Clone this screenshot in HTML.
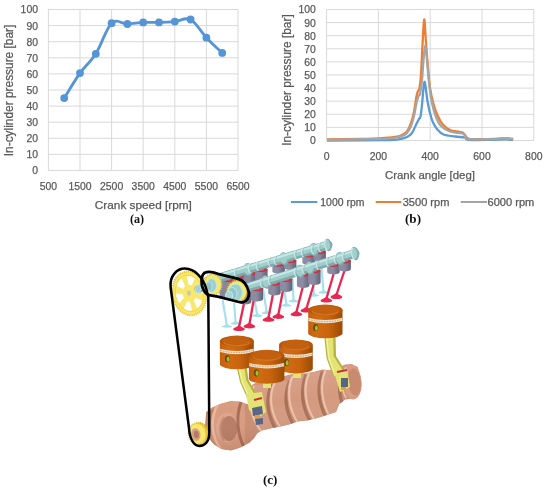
<!DOCTYPE html><html><head><meta charset="utf-8"><style>html,body{margin:0;padding:0;background:#fff;overflow:hidden;width:550px;height:490px;}svg{display:block}</style></head><body>
<svg width="550" height="490" viewBox="0 0 550 490">
<rect width="550" height="490" fill="#fff"/>
<path d="M48.4,170.50H238.0M48.4,154.40H238.0M48.4,138.30H238.0M48.4,122.20H238.0M48.4,106.10H238.0M48.4,90.00H238.0M48.4,73.90H238.0M48.4,57.80H238.0M48.4,41.70H238.0M48.4,25.60H238.0M48.4,9.50H238.0M48.40,9.0V171.0M80.00,9.0V171.0M111.60,9.0V171.0M143.20,9.0V171.0M174.80,9.0V171.0M206.40,9.0V171.0M238.00,9.0V171.0" stroke="#d9d9d9" stroke-width="1" fill="none"/>
<path d="M64.20,98.05 C66.83,93.89 74.73,80.47 80.00,73.09 C85.27,65.72 90.53,62.09 95.80,53.78 C101.07,45.46 106.33,28.15 111.60,23.19 C116.87,18.22 122.13,24.12 127.40,23.99 C132.67,23.86 137.93,22.65 143.20,22.38 C148.47,22.11 153.73,22.51 159.00,22.38 C164.27,22.25 169.53,22.06 174.80,21.57 C180.07,21.09 185.33,16.80 190.60,19.48 C195.87,22.17 201.13,32.09 206.40,37.68 C211.67,43.26 219.57,50.42 222.20,52.97" stroke="#5595d6" stroke-width="2.8" fill="none" stroke-linejoin="round"/>
<circle cx="64.20" cy="98.05" r="3.9" fill="#5595d6"/>
<circle cx="80.00" cy="73.09" r="3.9" fill="#5595d6"/>
<circle cx="95.80" cy="53.78" r="3.9" fill="#5595d6"/>
<circle cx="111.60" cy="23.19" r="3.9" fill="#5595d6"/>
<circle cx="127.40" cy="23.99" r="3.9" fill="#5595d6"/>
<circle cx="143.20" cy="22.38" r="3.9" fill="#5595d6"/>
<circle cx="159.00" cy="22.38" r="3.9" fill="#5595d6"/>
<circle cx="174.80" cy="21.57" r="3.9" fill="#5595d6"/>
<circle cx="190.60" cy="19.48" r="3.9" fill="#5595d6"/>
<circle cx="206.40" cy="37.68" r="3.9" fill="#5595d6"/>
<circle cx="222.20" cy="52.97" r="3.9" fill="#5595d6"/>
<text x="38.00" y="174.40" font-size="11.00" fill="#595959" stroke="#595959" stroke-width="0.25" text-anchor="end" textLength="5.8" lengthAdjust="spacingAndGlyphs" style="font-family:'Liberation Sans',Arial,sans-serif" >0</text>
<text x="38.00" y="158.30" font-size="11.00" fill="#595959" stroke="#595959" stroke-width="0.25" text-anchor="end" textLength="11.6" lengthAdjust="spacingAndGlyphs" style="font-family:'Liberation Sans',Arial,sans-serif" >10</text>
<text x="38.00" y="142.20" font-size="11.00" fill="#595959" stroke="#595959" stroke-width="0.25" text-anchor="end" textLength="11.6" lengthAdjust="spacingAndGlyphs" style="font-family:'Liberation Sans',Arial,sans-serif" >20</text>
<text x="38.00" y="126.10" font-size="11.00" fill="#595959" stroke="#595959" stroke-width="0.25" text-anchor="end" textLength="11.6" lengthAdjust="spacingAndGlyphs" style="font-family:'Liberation Sans',Arial,sans-serif" >30</text>
<text x="38.00" y="110.00" font-size="11.00" fill="#595959" stroke="#595959" stroke-width="0.25" text-anchor="end" textLength="11.6" lengthAdjust="spacingAndGlyphs" style="font-family:'Liberation Sans',Arial,sans-serif" >40</text>
<text x="38.00" y="93.90" font-size="11.00" fill="#595959" stroke="#595959" stroke-width="0.25" text-anchor="end" textLength="11.6" lengthAdjust="spacingAndGlyphs" style="font-family:'Liberation Sans',Arial,sans-serif" >50</text>
<text x="38.00" y="77.80" font-size="11.00" fill="#595959" stroke="#595959" stroke-width="0.25" text-anchor="end" textLength="11.6" lengthAdjust="spacingAndGlyphs" style="font-family:'Liberation Sans',Arial,sans-serif" >60</text>
<text x="38.00" y="61.70" font-size="11.00" fill="#595959" stroke="#595959" stroke-width="0.25" text-anchor="end" textLength="11.6" lengthAdjust="spacingAndGlyphs" style="font-family:'Liberation Sans',Arial,sans-serif" >70</text>
<text x="38.00" y="45.60" font-size="11.00" fill="#595959" stroke="#595959" stroke-width="0.25" text-anchor="end" textLength="11.6" lengthAdjust="spacingAndGlyphs" style="font-family:'Liberation Sans',Arial,sans-serif" >80</text>
<text x="38.00" y="29.50" font-size="11.00" fill="#595959" stroke="#595959" stroke-width="0.25" text-anchor="end" textLength="11.6" lengthAdjust="spacingAndGlyphs" style="font-family:'Liberation Sans',Arial,sans-serif" >90</text>
<text x="38.00" y="13.40" font-size="11.00" fill="#595959" stroke="#595959" stroke-width="0.25" text-anchor="end" textLength="17.4" lengthAdjust="spacingAndGlyphs" style="font-family:'Liberation Sans',Arial,sans-serif" >100</text>
<text x="48.40" y="190.30" font-size="11.00" fill="#595959" stroke="#595959" stroke-width="0.25" text-anchor="middle" textLength="17.4" lengthAdjust="spacingAndGlyphs" style="font-family:'Liberation Sans',Arial,sans-serif" >500</text>
<text x="80.00" y="190.30" font-size="11.00" fill="#595959" stroke="#595959" stroke-width="0.25" text-anchor="middle" textLength="23.2" lengthAdjust="spacingAndGlyphs" style="font-family:'Liberation Sans',Arial,sans-serif" >1500</text>
<text x="111.60" y="190.30" font-size="11.00" fill="#595959" stroke="#595959" stroke-width="0.25" text-anchor="middle" textLength="23.2" lengthAdjust="spacingAndGlyphs" style="font-family:'Liberation Sans',Arial,sans-serif" >2500</text>
<text x="143.20" y="190.30" font-size="11.00" fill="#595959" stroke="#595959" stroke-width="0.25" text-anchor="middle" textLength="23.2" lengthAdjust="spacingAndGlyphs" style="font-family:'Liberation Sans',Arial,sans-serif" >3500</text>
<text x="174.80" y="190.30" font-size="11.00" fill="#595959" stroke="#595959" stroke-width="0.25" text-anchor="middle" textLength="23.2" lengthAdjust="spacingAndGlyphs" style="font-family:'Liberation Sans',Arial,sans-serif" >4500</text>
<text x="206.40" y="190.30" font-size="11.00" fill="#595959" stroke="#595959" stroke-width="0.25" text-anchor="middle" textLength="23.2" lengthAdjust="spacingAndGlyphs" style="font-family:'Liberation Sans',Arial,sans-serif" >5500</text>
<text x="238.00" y="190.30" font-size="11.00" fill="#595959" stroke="#595959" stroke-width="0.25" text-anchor="middle" textLength="23.2" lengthAdjust="spacingAndGlyphs" style="font-family:'Liberation Sans',Arial,sans-serif" >6500</text>
<text x="94.80" y="209.20" font-size="11.40" fill="#595959" stroke="#595959" stroke-width="0.25" text-anchor="start" textLength="97.1" lengthAdjust="spacingAndGlyphs" style="font-family:'Liberation Sans',Arial,sans-serif" >Crank speed [rpm]</text>
<g transform="translate(12.9,156.2) rotate(-90)">
<text x="0.00" y="0.00" font-size="12.20" fill="#595959" stroke="#595959" stroke-width="0.25" text-anchor="start" textLength="131.5" lengthAdjust="spacingAndGlyphs" style="font-family:'Liberation Sans',Arial,sans-serif" >In-cylinder pressure [bar]</text>
</g>
<text x="137.00" y="222.80" font-size="12.00" fill="#111" text-anchor="middle" textLength="14.2" lengthAdjust="spacingAndGlyphs" font-weight="bold" style="font-family:'Liberation Serif','Times New Roman',serif" >(a)</text>
<path d="M326.6,140.50H533.8M326.6,127.40H533.8M326.6,114.30H533.8M326.6,101.20H533.8M326.6,88.10H533.8M326.6,75.00H533.8M326.6,61.90H533.8M326.6,48.80H533.8M326.6,35.70H533.8M326.6,22.60H533.8M326.6,9.50H533.8M326.60,9.0V141.0M378.40,9.0V141.0M430.20,9.0V141.0M482.00,9.0V141.0M533.80,9.0V141.0" stroke="#d9d9d9" stroke-width="1" fill="none"/>
<path d="M327.00,140.50 C337.50,140.42 377.83,140.25 390.00,140.00 C402.17,139.75 397.17,139.50 400.00,139.00 C402.83,138.50 405.00,138.00 407.00,137.00 C409.00,136.00 410.43,135.17 412.00,133.00 C413.57,130.83 415.23,126.33 416.40,124.00 C417.57,121.67 418.32,120.27 419.00,119.00 C419.68,117.73 420.00,118.73 420.50,116.40 C421.00,114.07 421.50,109.73 422.00,105.00 C422.50,100.27 423.08,91.87 423.50,88.00 C423.92,84.13 424.17,82.13 424.50,81.80 C424.83,81.47 425.03,82.97 425.50,86.00 C425.97,89.03 426.55,95.50 427.30,100.00 C428.05,104.50 429.10,109.37 430.00,113.00 C430.90,116.63 431.53,119.13 432.70,121.80 C433.87,124.47 435.18,126.88 437.00,129.00 C438.82,131.12 440.60,133.25 443.60,134.50 C446.60,135.75 451.43,135.98 455.00,136.50 C458.57,137.02 462.75,137.05 465.00,137.60 C467.25,138.15 464.33,139.42 468.50,139.80 C472.67,140.18 483.92,139.97 490.00,139.90 C496.08,139.83 501.17,139.38 505.00,139.40 C508.83,139.42 511.67,139.90 513.00,140.00" stroke="#5b9bd5" stroke-width="2.3" fill="none" stroke-linejoin="round"/>
<path d="M327.00,139.30 C332.50,139.25 351.17,139.15 360.00,139.00 C368.83,138.85 374.17,138.73 380.00,138.40 C385.83,138.07 391.33,137.57 395.00,137.00 C398.67,136.43 400.00,135.92 402.00,135.00 C404.00,134.08 405.50,133.50 407.00,131.50 C408.50,129.50 409.83,126.25 411.00,123.00 C412.17,119.75 413.10,116.33 414.00,112.00 C414.90,107.67 415.73,100.50 416.40,97.00 C417.07,93.50 417.48,92.50 418.00,91.00 C418.52,89.50 419.00,90.67 419.50,88.00 C420.00,85.33 420.50,82.17 421.00,75.00 C421.50,67.83 421.97,54.25 422.50,45.00 C423.03,35.75 423.65,20.33 424.20,19.50 C424.75,18.67 425.25,32.92 425.80,40.00 C426.35,47.08 426.80,54.00 427.50,62.00 C428.20,70.00 428.98,80.92 430.00,88.00 C431.02,95.08 432.27,99.75 433.60,104.50 C434.93,109.25 436.47,113.17 438.00,116.50 C439.53,119.83 440.80,122.25 442.80,124.50 C444.80,126.75 447.63,128.83 450.00,130.00 C452.37,131.17 454.92,131.08 457.00,131.50 C459.08,131.92 461.17,131.92 462.50,132.50 C463.83,133.08 464.08,134.00 465.00,135.00 C465.92,136.00 466.33,137.80 468.00,138.50 C469.67,139.20 470.50,139.15 475.00,139.20 C479.50,139.25 489.50,138.95 495.00,138.80 C500.50,138.65 504.95,138.27 508.00,138.30 C511.05,138.33 512.42,138.88 513.30,139.00" stroke="#ed7d31" stroke-width="2.3" fill="none" stroke-linejoin="round"/>
<path d="M327.00,139.80 C335.83,139.67 368.67,139.33 380.00,139.00 C391.33,138.67 391.33,138.30 395.00,137.80 C398.67,137.30 400.00,136.80 402.00,136.00 C404.00,135.20 405.50,134.67 407.00,133.00 C408.50,131.33 409.83,128.83 411.00,126.00 C412.17,123.17 413.08,119.83 414.00,116.00 C414.92,112.17 415.75,106.33 416.50,103.00 C417.25,99.67 417.92,97.50 418.50,96.00 C419.08,94.50 419.42,96.67 420.00,94.00 C420.58,91.33 421.42,85.67 422.00,80.00 C422.58,74.33 422.95,65.87 423.50,60.00 C424.05,54.13 424.72,44.80 425.30,44.80 C425.88,44.80 426.38,53.80 427.00,60.00 C427.62,66.20 428.17,74.83 429.00,82.00 C429.83,89.17 430.83,97.17 432.00,103.00 C433.17,108.83 434.50,113.17 436.00,117.00 C437.50,120.83 438.67,123.58 441.00,126.00 C443.33,128.42 446.42,130.25 450.00,131.50 C453.58,132.75 460.00,132.75 462.50,133.50 C465.00,134.25 464.08,135.08 465.00,136.00 C465.92,136.92 463.83,138.47 468.00,139.00 C472.17,139.53 483.83,139.27 490.00,139.20 C496.17,139.13 501.17,138.57 505.00,138.60 C508.83,138.63 511.67,139.27 513.00,139.40" stroke="#a5a5a5" stroke-width="2.3" fill="none" stroke-linejoin="round"/>
<text x="315.80" y="144.40" font-size="11.00" fill="#595959" stroke="#595959" stroke-width="0.25" text-anchor="end" textLength="5.8" lengthAdjust="spacingAndGlyphs" style="font-family:'Liberation Sans',Arial,sans-serif" >0</text>
<text x="315.80" y="131.30" font-size="11.00" fill="#595959" stroke="#595959" stroke-width="0.25" text-anchor="end" textLength="11.6" lengthAdjust="spacingAndGlyphs" style="font-family:'Liberation Sans',Arial,sans-serif" >10</text>
<text x="315.80" y="118.20" font-size="11.00" fill="#595959" stroke="#595959" stroke-width="0.25" text-anchor="end" textLength="11.6" lengthAdjust="spacingAndGlyphs" style="font-family:'Liberation Sans',Arial,sans-serif" >20</text>
<text x="315.80" y="105.10" font-size="11.00" fill="#595959" stroke="#595959" stroke-width="0.25" text-anchor="end" textLength="11.6" lengthAdjust="spacingAndGlyphs" style="font-family:'Liberation Sans',Arial,sans-serif" >30</text>
<text x="315.80" y="92.00" font-size="11.00" fill="#595959" stroke="#595959" stroke-width="0.25" text-anchor="end" textLength="11.6" lengthAdjust="spacingAndGlyphs" style="font-family:'Liberation Sans',Arial,sans-serif" >40</text>
<text x="315.80" y="78.90" font-size="11.00" fill="#595959" stroke="#595959" stroke-width="0.25" text-anchor="end" textLength="11.6" lengthAdjust="spacingAndGlyphs" style="font-family:'Liberation Sans',Arial,sans-serif" >50</text>
<text x="315.80" y="65.80" font-size="11.00" fill="#595959" stroke="#595959" stroke-width="0.25" text-anchor="end" textLength="11.6" lengthAdjust="spacingAndGlyphs" style="font-family:'Liberation Sans',Arial,sans-serif" >60</text>
<text x="315.80" y="52.70" font-size="11.00" fill="#595959" stroke="#595959" stroke-width="0.25" text-anchor="end" textLength="11.6" lengthAdjust="spacingAndGlyphs" style="font-family:'Liberation Sans',Arial,sans-serif" >70</text>
<text x="315.80" y="39.60" font-size="11.00" fill="#595959" stroke="#595959" stroke-width="0.25" text-anchor="end" textLength="11.6" lengthAdjust="spacingAndGlyphs" style="font-family:'Liberation Sans',Arial,sans-serif" >80</text>
<text x="315.80" y="26.50" font-size="11.00" fill="#595959" stroke="#595959" stroke-width="0.25" text-anchor="end" textLength="11.6" lengthAdjust="spacingAndGlyphs" style="font-family:'Liberation Sans',Arial,sans-serif" >90</text>
<text x="315.80" y="13.40" font-size="11.00" fill="#595959" stroke="#595959" stroke-width="0.25" text-anchor="end" textLength="17.4" lengthAdjust="spacingAndGlyphs" style="font-family:'Liberation Sans',Arial,sans-serif" >100</text>
<text x="326.60" y="160.20" font-size="11.00" fill="#595959" stroke="#595959" stroke-width="0.25" text-anchor="middle" textLength="5.8" lengthAdjust="spacingAndGlyphs" style="font-family:'Liberation Sans',Arial,sans-serif" >0</text>
<text x="378.40" y="160.20" font-size="11.00" fill="#595959" stroke="#595959" stroke-width="0.25" text-anchor="middle" textLength="17.4" lengthAdjust="spacingAndGlyphs" style="font-family:'Liberation Sans',Arial,sans-serif" >200</text>
<text x="430.20" y="160.20" font-size="11.00" fill="#595959" stroke="#595959" stroke-width="0.25" text-anchor="middle" textLength="17.4" lengthAdjust="spacingAndGlyphs" style="font-family:'Liberation Sans',Arial,sans-serif" >400</text>
<text x="482.00" y="160.20" font-size="11.00" fill="#595959" stroke="#595959" stroke-width="0.25" text-anchor="middle" textLength="17.4" lengthAdjust="spacingAndGlyphs" style="font-family:'Liberation Sans',Arial,sans-serif" >600</text>
<text x="533.80" y="160.20" font-size="11.00" fill="#595959" stroke="#595959" stroke-width="0.25" text-anchor="middle" textLength="17.4" lengthAdjust="spacingAndGlyphs" style="font-family:'Liberation Sans',Arial,sans-serif" >800</text>
<text x="384.90" y="179.00" font-size="11.40" fill="#595959" stroke="#595959" stroke-width="0.25" text-anchor="start" textLength="90.1" lengthAdjust="spacingAndGlyphs" style="font-family:'Liberation Sans',Arial,sans-serif" >Crank angle [deg]</text>
<g transform="translate(291.1,145.8) rotate(-90)">
<text x="0.00" y="0.00" font-size="12.00" fill="#595959" stroke="#595959" stroke-width="0.25" text-anchor="start" textLength="131.5" lengthAdjust="spacingAndGlyphs" style="font-family:'Liberation Sans',Arial,sans-serif" >In-cylinder pressure [bar]</text>
</g>
<path d="M290.9,202H317.3" stroke="#5b9bd5" stroke-width="2"/>
<text x="320.30" y="205.60" font-size="10.20" fill="#595959" stroke="#595959" stroke-width="0.25" text-anchor="start" textLength="44.1" lengthAdjust="spacingAndGlyphs" style="font-family:'Liberation Sans',Arial,sans-serif" >1000 rpm</text>
<path d="M375.7,202H401.3" stroke="#ed7d31" stroke-width="2"/>
<text x="402.70" y="205.60" font-size="10.20" fill="#595959" stroke="#595959" stroke-width="0.25" text-anchor="start" textLength="46.7" lengthAdjust="spacingAndGlyphs" style="font-family:'Liberation Sans',Arial,sans-serif" >3500 rpm</text>
<path d="M460.7,202H487.0" stroke="#a5a5a5" stroke-width="2"/>
<text x="487.50" y="205.60" font-size="10.20" fill="#595959" stroke="#595959" stroke-width="0.25" text-anchor="start" textLength="46.8" lengthAdjust="spacingAndGlyphs" style="font-family:'Liberation Sans',Arial,sans-serif" >6000 rpm</text>
<text x="413.00" y="223.10" font-size="12.00" fill="#111" text-anchor="middle" textLength="16.0" lengthAdjust="spacingAndGlyphs" font-weight="bold" style="font-family:'Liberation Serif','Times New Roman',serif" >(b)</text>
<defs><linearGradient id="pg" x1="0" x2="1" y1="0" y2="0"><stop offset="0" stop-color="#c45e0c"/><stop offset="0.25" stop-color="#d26c12"/><stop offset="0.6" stop-color="#c8640e"/><stop offset="1" stop-color="#9a4a06"/></linearGradient><linearGradient id="pt" x1="0" x2="1" y1="0" y2="0"><stop offset="0" stop-color="#b4560a"/><stop offset="0.5" stop-color="#c8640e"/><stop offset="1" stop-color="#b0540a"/></linearGradient><linearGradient id="tg" x1="0" x2="1" y1="0" y2="0"><stop offset="0" stop-color="#8a8aa4"/><stop offset="0.45" stop-color="#8c8ca2"/><stop offset="1" stop-color="#62627a"/></linearGradient><linearGradient id="csh" x1="0" x2="0" y1="0" y2="1" gradientTransform="rotate(-14 0.5 0.5)"><stop offset="0" stop-color="#fff" stop-opacity="0.12"/><stop offset="0.45" stop-color="#fff" stop-opacity="0"/><stop offset="0.8" stop-color="#7a4a3a" stop-opacity="0.12"/><stop offset="1" stop-color="#7a4a3a" stop-opacity="0.3"/></linearGradient><linearGradient id="cg" x1="0" x2="0" y1="0" y2="1"><stop offset="0" stop-color="#dca086"/><stop offset="0.5" stop-color="#d39476"/><stop offset="1" stop-color="#c08064"/></linearGradient></defs>
<path d="M222.6,300.0L227.0,326.0" stroke="#a4e0ee" stroke-width="2.1"/>
<path d="M227.0,323.5 c0.5,1.5 4,2 5,2.6 c0.5,1 -1,1.6 -5,1.6 c-4,0 -5.5,-0.6 -5,-1.6 c1,-0.6 4.5,-1.1 5,-2.6z" fill="#a4e0ee"/>
<path d="M234.1,303.0L235.7,323.0" stroke="#a4e0ee" stroke-width="2.1"/>
<path d="M235.7,320.5 c0.5,1.5 4,2 5,2.6 c0.5,1 -1,1.6 -5,1.6 c-4,0 -5.5,-0.6 -5,-1.6 c1,-0.6 4.5,-1.1 5,-2.6z" fill="#a4e0ee"/>
<path d="M254.4,300.0L257.3,315.3" stroke="#a4e0ee" stroke-width="2.1"/>
<path d="M257.3,312.8 c0.5,1.5 4,2 5,2.6 c0.5,1 -1,1.6 -5,1.6 c-4,0 -5.5,-0.6 -5,-1.6 c1,-0.6 4.5,-1.1 5,-2.6z" fill="#a4e0ee"/>
<path d="M262.4,285.0L266.7,312.4" stroke="#a4e0ee" stroke-width="2.1"/>
<path d="M266.7,309.9 c0.5,1.5 4,2 5,2.6 c0.5,1 -1,1.6 -5,1.6 c-4,0 -5.5,-0.6 -5,-1.6 c1,-0.6 4.5,-1.1 5,-2.6z" fill="#a4e0ee"/>
<path d="M283.5,283.0L286.4,305.0" stroke="#a4e0ee" stroke-width="2.1"/>
<path d="M286.4,302.5 c0.5,1.5 4,2 5,2.6 c0.5,1 -1,1.6 -5,1.6 c-4,0 -5.5,-0.6 -5,-1.6 c1,-0.6 4.5,-1.1 5,-2.6z" fill="#a4e0ee"/>
<path d="M292.2,276.0L293.6,300.7" stroke="#a4e0ee" stroke-width="2.1"/>
<path d="M293.6,298.2 c0.5,1.5 4,2 5,2.6 c0.5,1 -1,1.6 -5,1.6 c-4,0 -5.5,-0.6 -5,-1.6 c1,-0.6 4.5,-1.1 5,-2.6z" fill="#a4e0ee"/>
<path d="M312.5,278.0L314.0,295.0" stroke="#a4e0ee" stroke-width="2.1"/>
<path d="M314.0,292.5 c0.5,1.5 4,2 5,2.6 c0.5,1 -1,1.6 -5,1.6 c-4,0 -5.5,-0.6 -5,-1.6 c1,-0.6 4.5,-1.1 5,-2.6z" fill="#a4e0ee"/>
<path d="M321.3,264.0L323.5,292.0" stroke="#a4e0ee" stroke-width="2.1"/>
<path d="M323.5,289.5 c0.5,1.5 4,2 5,2.6 c0.5,1 -1,1.6 -5,1.6 c-4,0 -5.5,-0.6 -5,-1.6 c1,-0.6 4.5,-1.1 5,-2.6z" fill="#a4e0ee"/>
<path d="M221.8,279.0 v11.0 a6.2,2.4 0 0 0 12.5,0 v-11.0 z" fill="url(#tg)"/>
<ellipse cx="228.0" cy="279.5" rx="6.2" ry="2.5" fill="#c43444"/>
<ellipse cx="227.2" cy="279.3" rx="4.0" ry="1.6" fill="#e0505a"/>
<path d="M232.8,275.7 v11.3 a6.2,2.4 0 0 0 12.5,0 v-11.3 z" fill="url(#tg)"/>
<ellipse cx="239.0" cy="276.2" rx="6.2" ry="2.5" fill="#c43444"/>
<ellipse cx="238.2" cy="276.0" rx="4.0" ry="1.6" fill="#e0505a"/>
<path d="M243.6,272.4 v10.6 a6.2,2.4 0 0 0 12.5,0 v-10.6 z" fill="url(#tg)"/>
<ellipse cx="249.8" cy="272.9" rx="6.2" ry="2.5" fill="#c43444"/>
<ellipse cx="249.0" cy="272.7" rx="4.0" ry="1.6" fill="#e0505a"/>
<path d="M255.1,269.0 v12.0 a6.2,2.4 0 0 0 12.5,0 v-12.0 z" fill="url(#tg)"/>
<ellipse cx="261.3" cy="269.5" rx="6.2" ry="2.5" fill="#c43444"/>
<ellipse cx="260.5" cy="269.3" rx="4.0" ry="1.6" fill="#e0505a"/>
<path d="M272.4,263.7 v7.5 a6.2,2.4 0 0 0 12.5,0 v-7.5 z" fill="url(#tg)"/>
<ellipse cx="278.7" cy="264.2" rx="6.2" ry="2.5" fill="#c43444"/>
<ellipse cx="277.9" cy="264.0" rx="4.0" ry="1.6" fill="#e0505a"/>
<path d="M283.9,260.3 v7.3 a6.2,2.4 0 0 0 12.5,0 v-7.3 z" fill="url(#tg)"/>
<ellipse cx="290.1" cy="260.8" rx="6.2" ry="2.5" fill="#c43444"/>
<ellipse cx="289.3" cy="260.6" rx="4.0" ry="1.6" fill="#e0505a"/>
<path d="M302.4,254.6 v7.8 a6.2,2.4 0 0 0 12.5,0 v-7.8 z" fill="url(#tg)"/>
<ellipse cx="308.7" cy="255.1" rx="6.2" ry="2.5" fill="#c43444"/>
<ellipse cx="307.9" cy="254.9" rx="4.0" ry="1.6" fill="#e0505a"/>
<path d="M313.4,251.3 v7.7 a6.2,2.4 0 0 0 12.5,0 v-7.7 z" fill="url(#tg)"/>
<ellipse cx="319.6" cy="251.8" rx="6.2" ry="2.5" fill="#c43444"/>
<ellipse cx="318.8" cy="251.6" rx="4.0" ry="1.6" fill="#e0505a"/>
<ellipse cx="248.0" cy="269.7" rx="4.5" ry="6.7" fill="#80aaae" transform="rotate(-10 248.0 269.2)"/>
<ellipse cx="284.0" cy="258.8" rx="4.5" ry="6.7" fill="#80aaae" transform="rotate(-10 284.0 258.3)"/>
<ellipse cx="314.0" cy="249.7" rx="4.5" ry="6.7" fill="#80aaae" transform="rotate(-10 314.0 249.2)"/>
<path d="M204.0,282.5 L328.0,245.0" stroke="#80aaae" stroke-width="9.0" fill="none" stroke-linecap="round"/>
<path d="M204.0,282.5 L328.0,245.0" stroke="#a0cfcb" stroke-width="6.0" fill="none" stroke-linecap="round" transform="translate(-0.3,-1)"/>
<ellipse cx="247.5" cy="268.9" rx="3.6" ry="5.7" fill="#a0cfcb" transform="rotate(-10 248.0 269.2)"/>
<ellipse cx="283.5" cy="258.0" rx="3.6" ry="5.7" fill="#a0cfcb" transform="rotate(-10 284.0 258.3)"/>
<ellipse cx="313.5" cy="248.9" rx="3.6" ry="5.7" fill="#a0cfcb" transform="rotate(-10 314.0 249.2)"/>
<path d="M204.0,282.5 L328.0,245.0" stroke="#c4e8e6" stroke-width="2" fill="none" stroke-linecap="round" transform="translate(-0.6,-2.6)"/>
<path d="M236.0,268.3 c-2.2,3 -2.2,8 0,9.0" fill="none" stroke="#c4e8e6" stroke-width="1.3" transform="rotate(-8 236.0 272.8)"/>
<path d="M237.6,268.3 c-2.2,3 -2.2,8 0,9.0" fill="none" stroke="#80aaae" stroke-width="0.8" opacity="0.6" transform="rotate(-8 236.0 272.8)"/>
<path d="M250.0,264.1 c-2.2,3 -2.2,8 0,9.0" fill="none" stroke="#c4e8e6" stroke-width="1.3" transform="rotate(-8 250.0 268.6)"/>
<path d="M251.6,264.1 c-2.2,3 -2.2,8 0,9.0" fill="none" stroke="#80aaae" stroke-width="0.8" opacity="0.6" transform="rotate(-8 250.0 268.6)"/>
<path d="M258.0,261.7 c-2.2,3 -2.2,8 0,9.0" fill="none" stroke="#c4e8e6" stroke-width="1.3" transform="rotate(-8 258.0 266.2)"/>
<path d="M259.6,261.7 c-2.2,3 -2.2,8 0,9.0" fill="none" stroke="#80aaae" stroke-width="0.8" opacity="0.6" transform="rotate(-8 258.0 266.2)"/>
<path d="M270.0,258.0 c-2.2,3 -2.2,8 0,9.0" fill="none" stroke="#c4e8e6" stroke-width="1.3" transform="rotate(-8 270.0 262.5)"/>
<path d="M271.6,258.0 c-2.2,3 -2.2,8 0,9.0" fill="none" stroke="#80aaae" stroke-width="0.8" opacity="0.6" transform="rotate(-8 270.0 262.5)"/>
<path d="M276.0,256.2 c-2.2,3 -2.2,8 0,9.0" fill="none" stroke="#c4e8e6" stroke-width="1.3" transform="rotate(-8 276.0 260.7)"/>
<path d="M277.6,256.2 c-2.2,3 -2.2,8 0,9.0" fill="none" stroke="#80aaae" stroke-width="0.8" opacity="0.6" transform="rotate(-8 276.0 260.7)"/>
<path d="M296.0,250.2 c-2.2,3 -2.2,8 0,9.0" fill="none" stroke="#c4e8e6" stroke-width="1.3" transform="rotate(-8 296.0 254.7)"/>
<path d="M297.6,250.2 c-2.2,3 -2.2,8 0,9.0" fill="none" stroke="#80aaae" stroke-width="0.8" opacity="0.6" transform="rotate(-8 296.0 254.7)"/>
<path d="M303.0,248.1 c-2.2,3 -2.2,8 0,9.0" fill="none" stroke="#c4e8e6" stroke-width="1.3" transform="rotate(-8 303.0 252.6)"/>
<path d="M304.6,248.1 c-2.2,3 -2.2,8 0,9.0" fill="none" stroke="#80aaae" stroke-width="0.8" opacity="0.6" transform="rotate(-8 303.0 252.6)"/>
<path d="M313.0,245.0 c-2.2,3 -2.2,8 0,9.0" fill="none" stroke="#c4e8e6" stroke-width="1.3" transform="rotate(-8 313.0 249.5)"/>
<path d="M314.6,245.0 c-2.2,3 -2.2,8 0,9.0" fill="none" stroke="#80aaae" stroke-width="0.8" opacity="0.6" transform="rotate(-8 313.0 249.5)"/>
<path d="M320.0,242.9 c-2.2,3 -2.2,8 0,9.0" fill="none" stroke="#c4e8e6" stroke-width="1.3" transform="rotate(-8 320.0 247.4)"/>
<path d="M321.6,242.9 c-2.2,3 -2.2,8 0,9.0" fill="none" stroke="#80aaae" stroke-width="0.8" opacity="0.6" transform="rotate(-8 320.0 247.4)"/>
<ellipse cx="328.0" cy="245.0" rx="3.6" ry="6.4" fill="#80aaae" transform="rotate(-10 328.0 245.0)"/>
<ellipse cx="327.3" cy="244.5" rx="2.8" ry="5.4" fill="#a0cfcb" transform="rotate(-10 328.0 245.0)"/>
<path d="M326.5,239.6 c-2.5,3 -2.5,7.8 0,10.8" fill="none" stroke="#c4e8e6" stroke-width="1.3" transform="rotate(-10 328.0 245.0)"/>
<path d="M244.1,303.0L239.0,327.1" stroke="#e82850" stroke-width="2.3"/>
<path d="M239.0,324.7 c1,2 4.8,2.8 5.6,3.8 c0.6,1.3 -0.5,2.6 -5.6,2.6 c-5.1,0 -6.2,-1.3 -5.6,-2.6 c0.8,-1 4.6,-1.8 5.6,-3.8z" fill="#e82850"/>
<path d="M253.7,300.0L249.4,324.4" stroke="#e82850" stroke-width="2.3"/>
<path d="M249.4,322.0 c1,2 4.8,2.8 5.6,3.8 c0.6,1.3 -0.5,2.6 -5.6,2.6 c-5.1,0 -6.2,-1.3 -5.6,-2.6 c0.8,-1 4.6,-1.8 5.6,-3.8z" fill="#e82850"/>
<path d="M273.0,294.0L268.5,317.8" stroke="#e82850" stroke-width="2.3"/>
<path d="M268.5,315.4 c1,2 4.8,2.8 5.6,3.8 c0.6,1.3 -0.5,2.6 -5.6,2.6 c-5.1,0 -6.2,-1.3 -5.6,-2.6 c0.8,-1 4.6,-1.8 5.6,-3.8z" fill="#e82850"/>
<path d="M283.0,290.5L278.3,314.9" stroke="#e82850" stroke-width="2.3"/>
<path d="M278.3,312.5 c1,2 4.8,2.8 5.6,3.8 c0.6,1.3 -0.5,2.6 -5.6,2.6 c-5.1,0 -6.2,-1.3 -5.6,-2.6 c0.8,-1 4.6,-1.8 5.6,-3.8z" fill="#e82850"/>
<path d="M303.0,286.0L296.4,312.3" stroke="#e82850" stroke-width="2.3"/>
<path d="M296.4,309.9 c1,2 4.8,2.8 5.6,3.8 c0.6,1.3 -0.5,2.6 -5.6,2.6 c-5.1,0 -6.2,-1.3 -5.6,-2.6 c0.8,-1 4.6,-1.8 5.6,-3.8z" fill="#e82850"/>
<path d="M314.5,282.0L306.4,308.6" stroke="#e82850" stroke-width="2.3"/>
<path d="M306.4,306.2 c1,2 4.8,2.8 5.6,3.8 c0.6,1.3 -0.5,2.6 -5.6,2.6 c-5.1,0 -6.2,-1.3 -5.6,-2.6 c0.8,-1 4.6,-1.8 5.6,-3.8z" fill="#e82850"/>
<path d="M333.6,274.0L326.4,298.6" stroke="#e82850" stroke-width="2.3"/>
<path d="M326.4,296.2 c1,2 4.8,2.8 5.6,3.8 c0.6,1.3 -0.5,2.6 -5.6,2.6 c-5.1,0 -6.2,-1.3 -5.6,-2.6 c0.8,-1 4.6,-1.8 5.6,-3.8z" fill="#e82850"/>
<path d="M344.5,270.5L336.4,295.0" stroke="#e82850" stroke-width="2.3"/>
<path d="M336.4,292.6 c1,2 4.8,2.8 5.6,3.8 c0.6,1.3 -0.5,2.6 -5.6,2.6 c-5.1,0 -6.2,-1.3 -5.6,-2.6 c0.8,-1 4.6,-1.8 5.6,-3.8z" fill="#e82850"/>
<path d="M238.8,292.1 v9.9 a6.2,2.4 0 0 0 12.5,0 v-9.9 z" fill="url(#tg)"/>
<ellipse cx="245.0" cy="292.6" rx="6.2" ry="2.5" fill="#c43444"/>
<ellipse cx="244.2" cy="292.4" rx="4.0" ry="1.6" fill="#e0505a"/>
<path d="M250.6,288.3 v10.7 a6.2,2.4 0 0 0 12.5,0 v-10.7 z" fill="url(#tg)"/>
<ellipse cx="256.8" cy="288.8" rx="6.2" ry="2.5" fill="#c43444"/>
<ellipse cx="256.0" cy="288.6" rx="4.0" ry="1.6" fill="#e0505a"/>
<path d="M268.2,282.7 v10.3 a6.2,2.4 0 0 0 12.5,0 v-10.3 z" fill="url(#tg)"/>
<ellipse cx="274.5" cy="283.2" rx="6.2" ry="2.5" fill="#c43444"/>
<ellipse cx="273.7" cy="283.0" rx="4.0" ry="1.6" fill="#e0505a"/>
<path d="M279.8,279.1 v10.4 a6.2,2.4 0 0 0 12.5,0 v-10.4 z" fill="url(#tg)"/>
<ellipse cx="286.0" cy="279.6" rx="6.2" ry="2.5" fill="#c43444"/>
<ellipse cx="285.2" cy="279.4" rx="4.0" ry="1.6" fill="#e0505a"/>
<path d="M296.9,273.7 v11.8 a6.2,2.4 0 0 0 12.5,0 v-11.8 z" fill="url(#tg)"/>
<ellipse cx="303.2" cy="274.2" rx="6.2" ry="2.5" fill="#c43444"/>
<ellipse cx="302.4" cy="274.0" rx="4.0" ry="1.6" fill="#e0505a"/>
<path d="M308.1,270.2 v12.3 a6.2,2.4 0 0 0 12.5,0 v-12.3 z" fill="url(#tg)"/>
<ellipse cx="314.3" cy="270.7" rx="6.2" ry="2.5" fill="#c43444"/>
<ellipse cx="313.5" cy="270.5" rx="4.0" ry="1.6" fill="#e0505a"/>
<path d="M327.2,264.1 v7.9 a6.2,2.4 0 0 0 12.5,0 v-7.9 z" fill="url(#tg)"/>
<ellipse cx="333.5" cy="264.6" rx="6.2" ry="2.5" fill="#c43444"/>
<ellipse cx="332.7" cy="264.4" rx="4.0" ry="1.6" fill="#e0505a"/>
<path d="M338.4,260.6 v8.4 a6.2,2.4 0 0 0 12.5,0 v-8.4 z" fill="url(#tg)"/>
<ellipse cx="344.7" cy="261.1" rx="6.2" ry="2.5" fill="#c43444"/>
<ellipse cx="343.9" cy="260.9" rx="4.0" ry="1.6" fill="#e0505a"/>
<ellipse cx="266.0" cy="282.1" rx="4.5" ry="6.7" fill="#80aaae" transform="rotate(-10 266.0 281.6)"/>
<ellipse cx="300.0" cy="271.4" rx="4.5" ry="6.7" fill="#80aaae" transform="rotate(-10 300.0 270.9)"/>
<ellipse cx="310.0" cy="268.2" rx="4.5" ry="6.7" fill="#80aaae" transform="rotate(-10 310.0 267.7)"/>
<ellipse cx="340.0" cy="258.7" rx="4.5" ry="6.7" fill="#80aaae" transform="rotate(-10 340.0 258.2)"/>
<path d="M230.0,293.0 L355.0,253.5" stroke="#80aaae" stroke-width="9.0" fill="none" stroke-linecap="round"/>
<path d="M230.0,293.0 L355.0,253.5" stroke="#a0cfcb" stroke-width="6.0" fill="none" stroke-linecap="round" transform="translate(-0.3,-1)"/>
<ellipse cx="265.5" cy="281.3" rx="3.6" ry="5.7" fill="#a0cfcb" transform="rotate(-10 266.0 281.6)"/>
<ellipse cx="299.5" cy="270.6" rx="3.6" ry="5.7" fill="#a0cfcb" transform="rotate(-10 300.0 270.9)"/>
<ellipse cx="309.5" cy="267.4" rx="3.6" ry="5.7" fill="#a0cfcb" transform="rotate(-10 310.0 267.7)"/>
<ellipse cx="339.5" cy="257.9" rx="3.6" ry="5.7" fill="#a0cfcb" transform="rotate(-10 340.0 258.2)"/>
<path d="M230.0,293.0 L355.0,253.5" stroke="#c4e8e6" stroke-width="2" fill="none" stroke-linecap="round" transform="translate(-0.6,-2.6)"/>
<path d="M262.0,278.4 c-2.2,3 -2.2,8 0,9.0" fill="none" stroke="#c4e8e6" stroke-width="1.3" transform="rotate(-8 262.0 282.9)"/>
<path d="M263.6,278.4 c-2.2,3 -2.2,8 0,9.0" fill="none" stroke="#80aaae" stroke-width="0.8" opacity="0.6" transform="rotate(-8 262.0 282.9)"/>
<path d="M270.0,275.9 c-2.2,3 -2.2,8 0,9.0" fill="none" stroke="#c4e8e6" stroke-width="1.3" transform="rotate(-8 270.0 280.4)"/>
<path d="M271.6,275.9 c-2.2,3 -2.2,8 0,9.0" fill="none" stroke="#80aaae" stroke-width="0.8" opacity="0.6" transform="rotate(-8 270.0 280.4)"/>
<path d="M296.0,267.6 c-2.2,3 -2.2,8 0,9.0" fill="none" stroke="#c4e8e6" stroke-width="1.3" transform="rotate(-8 296.0 272.1)"/>
<path d="M297.6,267.6 c-2.2,3 -2.2,8 0,9.0" fill="none" stroke="#80aaae" stroke-width="0.8" opacity="0.6" transform="rotate(-8 296.0 272.1)"/>
<path d="M304.0,265.1 c-2.2,3 -2.2,8 0,9.0" fill="none" stroke="#c4e8e6" stroke-width="1.3" transform="rotate(-8 304.0 269.6)"/>
<path d="M305.6,265.1 c-2.2,3 -2.2,8 0,9.0" fill="none" stroke="#80aaae" stroke-width="0.8" opacity="0.6" transform="rotate(-8 304.0 269.6)"/>
<path d="M318.0,260.7 c-2.2,3 -2.2,8 0,9.0" fill="none" stroke="#c4e8e6" stroke-width="1.3" transform="rotate(-8 318.0 265.2)"/>
<path d="M319.6,260.7 c-2.2,3 -2.2,8 0,9.0" fill="none" stroke="#80aaae" stroke-width="0.8" opacity="0.6" transform="rotate(-8 318.0 265.2)"/>
<path d="M328.0,257.5 c-2.2,3 -2.2,8 0,9.0" fill="none" stroke="#c4e8e6" stroke-width="1.3" transform="rotate(-8 328.0 262.0)"/>
<path d="M329.6,257.5 c-2.2,3 -2.2,8 0,9.0" fill="none" stroke="#80aaae" stroke-width="0.8" opacity="0.6" transform="rotate(-8 328.0 262.0)"/>
<path d="M336.0,255.0 c-2.2,3 -2.2,8 0,9.0" fill="none" stroke="#c4e8e6" stroke-width="1.3" transform="rotate(-8 336.0 259.5)"/>
<path d="M337.6,255.0 c-2.2,3 -2.2,8 0,9.0" fill="none" stroke="#80aaae" stroke-width="0.8" opacity="0.6" transform="rotate(-8 336.0 259.5)"/>
<path d="M344.0,252.5 c-2.2,3 -2.2,8 0,9.0" fill="none" stroke="#c4e8e6" stroke-width="1.3" transform="rotate(-8 344.0 257.0)"/>
<path d="M345.6,252.5 c-2.2,3 -2.2,8 0,9.0" fill="none" stroke="#80aaae" stroke-width="0.8" opacity="0.6" transform="rotate(-8 344.0 257.0)"/>
<ellipse cx="355.0" cy="253.5" rx="3.8" ry="6.8" fill="#80aaae" transform="rotate(-10 355.0 253.5)"/>
<ellipse cx="354.3" cy="253.0" rx="3.0" ry="5.8" fill="#a0cfcb" transform="rotate(-10 355.0 253.5)"/>
<path d="M353.5,247.7 c-2.5,3 -2.5,8.6 0,11.6" fill="none" stroke="#c4e8e6" stroke-width="1.3" transform="rotate(-10 355.0 253.5)"/>
<g transform="rotate(-11 189.4 293.4)">
<ellipse cx="189.4" cy="293.4" rx="16.9" ry="22.1" fill="#f8e86c" stroke="#e6c43a" stroke-width="1.8" stroke-dasharray="1.2 0.9"/>
<ellipse cx="189.4" cy="293.4" rx="14" ry="18.5" fill="none" stroke="#f0d448" stroke-width="0.8"/>
<path d="M201.13,286.57 L201.27,286.97 L201.39,287.38 L201.51,287.79 L201.62,288.21 L201.72,288.63 L201.81,289.05 L201.89,289.48 L201.96,289.91 L202.03,290.34 L202.09,290.77 L202.13,291.21 L202.17,291.64 L202.20,292.08 L202.23,292.52 L202.24,292.96 L202.24,293.40 L202.24,293.84 L202.23,294.28 L202.20,294.72 L202.17,295.16 L196.50,293.40 L196.50,293.25 L196.49,293.11 L196.49,292.96 L196.48,292.82 L196.48,292.67 L196.47,292.53 L196.46,292.38 L196.44,292.24 L196.43,292.09 L196.41,291.95 L196.39,291.80 L196.37,291.66 L196.35,291.52 L196.33,291.38 L196.30,291.23 L196.28,291.09 L196.25,290.95 L196.22,290.81 L196.18,290.67 L196.15,290.53Z" fill="#fff" stroke="#fff" stroke-width="1.2" stroke-linejoin="round"/>
<path d="M199.79,303.27 L199.59,303.62 L199.38,303.97 L199.17,304.31 L198.94,304.64 L198.72,304.96 L198.48,305.28 L198.24,305.58 L197.99,305.88 L197.74,306.17 L197.48,306.45 L197.22,306.73 L196.95,306.99 L196.67,307.24 L196.40,307.49 L196.11,307.72 L195.82,307.95 L195.53,308.16 L195.23,308.37 L194.93,308.56 L194.62,308.74 L192.95,301.44 L193.05,301.36 L193.14,301.29 L193.23,301.21 L193.33,301.13 L193.42,301.05 L193.51,300.97 L193.60,300.88 L193.69,300.79 L193.78,300.70 L193.87,300.61 L193.95,300.52 L194.04,300.43 L194.12,300.33 L194.20,300.23 L194.29,300.13 L194.37,300.03 L194.45,299.93 L194.52,299.82 L194.60,299.72 L194.67,299.61Z" fill="#fff" stroke="#fff" stroke-width="1.2" stroke-linejoin="round"/>
<path d="M188.06,310.10 L187.72,310.05 L187.39,309.99 L187.06,309.91 L186.73,309.83 L186.40,309.73 L186.08,309.62 L185.75,309.50 L185.43,309.37 L185.11,309.23 L184.80,309.08 L184.48,308.92 L184.18,308.74 L183.87,308.56 L183.57,308.37 L183.27,308.16 L182.98,307.95 L182.69,307.72 L182.40,307.49 L182.13,307.24 L181.85,306.99 L185.85,301.44 L185.95,301.51 L186.05,301.58 L186.14,301.65 L186.24,301.71 L186.34,301.78 L186.45,301.84 L186.55,301.90 L186.65,301.96 L186.75,302.01 L186.86,302.07 L186.96,302.12 L187.07,302.17 L187.17,302.21 L187.28,302.26 L187.38,302.30 L187.49,302.34 L187.60,302.38 L187.71,302.41 L187.82,302.45 L187.92,302.48Z" fill="#fff" stroke="#fff" stroke-width="1.2" stroke-linejoin="round"/>
<path d="M177.67,300.23 L177.53,299.83 L177.41,299.42 L177.29,299.01 L177.18,298.59 L177.08,298.17 L176.99,297.75 L176.91,297.32 L176.84,296.89 L176.77,296.46 L176.71,296.03 L176.67,295.59 L176.63,295.16 L176.60,294.72 L176.57,294.28 L176.56,293.84 L176.56,293.40 L176.56,292.96 L176.57,292.52 L176.60,292.08 L176.63,291.64 L182.30,293.40 L182.30,293.55 L182.31,293.69 L182.31,293.84 L182.32,293.98 L182.32,294.13 L182.33,294.27 L182.34,294.42 L182.36,294.56 L182.37,294.71 L182.39,294.85 L182.41,295.00 L182.43,295.14 L182.45,295.28 L182.47,295.42 L182.50,295.57 L182.52,295.71 L182.55,295.85 L182.58,295.99 L182.62,296.13 L182.65,296.27Z" fill="#fff" stroke="#fff" stroke-width="1.2" stroke-linejoin="round"/>
<path d="M179.01,283.53 L179.21,283.18 L179.42,282.83 L179.63,282.49 L179.86,282.16 L180.08,281.84 L180.32,281.52 L180.56,281.22 L180.81,280.92 L181.06,280.63 L181.32,280.35 L181.58,280.07 L181.85,279.81 L182.13,279.56 L182.40,279.31 L182.69,279.08 L182.98,278.85 L183.27,278.64 L183.57,278.43 L183.87,278.24 L184.18,278.06 L185.85,285.36 L185.75,285.44 L185.66,285.51 L185.57,285.59 L185.47,285.67 L185.38,285.75 L185.29,285.83 L185.20,285.92 L185.11,286.01 L185.02,286.10 L184.93,286.19 L184.85,286.28 L184.76,286.37 L184.68,286.47 L184.60,286.57 L184.51,286.67 L184.43,286.77 L184.35,286.87 L184.28,286.98 L184.20,287.08 L184.13,287.19Z" fill="#fff" stroke="#fff" stroke-width="1.2" stroke-linejoin="round"/>
<path d="M190.74,276.70 L191.08,276.75 L191.41,276.81 L191.74,276.89 L192.07,276.97 L192.40,277.07 L192.72,277.18 L193.05,277.30 L193.37,277.43 L193.69,277.57 L194.00,277.72 L194.32,277.88 L194.62,278.06 L194.93,278.24 L195.23,278.43 L195.53,278.64 L195.82,278.85 L196.11,279.08 L196.40,279.31 L196.67,279.56 L196.95,279.81 L192.95,285.36 L192.85,285.29 L192.75,285.22 L192.66,285.15 L192.56,285.09 L192.46,285.02 L192.35,284.96 L192.25,284.90 L192.15,284.84 L192.05,284.79 L191.94,284.73 L191.84,284.68 L191.73,284.63 L191.63,284.59 L191.52,284.54 L191.42,284.50 L191.31,284.46 L191.20,284.42 L191.09,284.39 L190.98,284.35 L190.88,284.32Z" fill="#fff" stroke="#fff" stroke-width="1.2" stroke-linejoin="round"/>
<ellipse cx="189" cy="293" rx="2" ry="2.6" fill="#c8cca8"/>
</g>
<path d="M198.5,289 L208,286" stroke="#80aaae" stroke-width="8" stroke-linecap="round"/>
<path d="M198.5,288.3 L208,285.3" stroke="#a0cfcb" stroke-width="5" stroke-linecap="round"/>
<ellipse cx="198" cy="289" rx="2.6" ry="4" fill="#a4d0d4" stroke="#bce8ec" stroke-width="0.8"/>
<path d="M218,280 L234,284 L236,301 L220,297z" fill="#8a86a0"/>
<ellipse cx="212.6" cy="284.7" rx="9.0" ry="10.4" fill="#f8e86c" stroke="#e6c43a" stroke-width="1.8" stroke-dasharray="1.2 0.9" transform="rotate(0.0 212.6 284.7)"/>
<ellipse cx="211.5" cy="285.5" rx="5" ry="6.8" fill="#a0cfcb" stroke="#b4ecf4" stroke-width="0.9"/>
<ellipse cx="209" cy="286.5" rx="3.2" ry="4.6" fill="#98c4c8" stroke="#b4ecf4" stroke-width="0.8"/>
<ellipse cx="237.0" cy="291.3" rx="9.8" ry="10.4" fill="#f8e86c" stroke="#e6c43a" stroke-width="1.8" stroke-dasharray="1.2 0.9" transform="rotate(0.0 237.0 291.3)"/>
<ellipse cx="235.5" cy="292.5" rx="7" ry="8.6" fill="#a0cfcb" stroke="#b4ecf4" stroke-width="1"/>
<ellipse cx="232" cy="294" rx="5" ry="6.5" fill="#98c4c8" stroke="#b4ecf4" stroke-width="0.9"/>
<ellipse cx="229" cy="295.8" rx="3.6" ry="4.8" fill="#a8d4d8" stroke="#b8f0f8" stroke-width="0.9"/>
<path d="M204.7,272.7 C208,271.5 212,271.6 217.8,273.8 L237.5,278.7 C243,280 247,284 248.9,292.4 C249.5,297 247,301.5 243,302.3 C240,302.6 238,302 235,301 L217.8,296.7 L209.1,295.1 C206,294.5 203,290 202,285.8 C201,280 201.8,275 204.7,272.7 Z" fill="none" stroke="#000" stroke-width="2.8"/>
<clipPath id="cc"><path d="M204.6,428.9 L206.2,411.9 L212.4,407.3 L221.6,403.6 L230.9,401.1 L240.2,401.7 L247.9,404.2 L249.5,390.0 L252.5,384.5 L257.0,382.2 L263.0,382.0 L271.1,383.6 L277.0,380.0 L283.0,376.5 L289.6,374.5 L299.0,373.5 L306.6,373.3 L314.4,371.7 L322.1,369.6 L329.8,370.2 L339.1,367.1 L345.3,364.6 L351.5,364.0 L357.7,367.1 L360.7,376.4 L361.4,385.6 L359.2,393.4 L353.0,398.6 L345.3,399.6 L339.1,404.2 L336.0,411.9 L326.7,415.0 L317.5,418.1 L308.2,420.3 L298.9,421.2 L289.6,424.3 L280.4,426.4 L271.1,428.3 L261.8,430.5 L257.2,433.6 L254.1,438.2 L249.5,442.8 L240.2,447.5 L230.9,450.6 L221.6,449.0 L213.9,444.4 L207.7,436.6 Z"/></clipPath>
<path d="M204.6,428.9 L206.2,411.9 L212.4,407.3 L221.6,403.6 L230.9,401.1 L240.2,401.7 L247.9,404.2 L249.5,390.0 L252.5,384.5 L257.0,382.2 L263.0,382.0 L271.1,383.6 L277.0,380.0 L283.0,376.5 L289.6,374.5 L299.0,373.5 L306.6,373.3 L314.4,371.7 L322.1,369.6 L329.8,370.2 L339.1,367.1 L345.3,364.6 L351.5,364.0 L357.7,367.1 L360.7,376.4 L361.4,385.6 L359.2,393.4 L353.0,398.6 L345.3,399.6 L339.1,404.2 L336.0,411.9 L326.7,415.0 L317.5,418.1 L308.2,420.3 L298.9,421.2 L289.6,424.3 L280.4,426.4 L271.1,428.3 L261.8,430.5 L257.2,433.6 L254.1,438.2 L249.5,442.8 L240.2,447.5 L230.9,450.6 L221.6,449.0 L213.9,444.4 L207.7,436.6 Z" fill="#cc8e74"/>
<g clip-path="url(#cc)">
<path d="M216,404 C208,418 209,438 220,450 L245,450 L245,400 Z" fill="#d89c80"/>
<ellipse cx="227" cy="428" rx="11" ry="15" fill="#dca68e"/>
<ellipse cx="229" cy="428.5" rx="8.5" ry="12.5" fill="#b87c64"/>
<path d="M224,417 C219,424 219,434 224,441" fill="none" stroke="#c88c72" stroke-width="2"/>
<path d="M218,404 C210,418 211,437 221,449" fill="none" stroke="#e8b8a0" stroke-width="2.4"/>
<path d="M206,412 L214,409 C209,420 209,432 213,444 L206,440 Z" fill="#c08266"/>
<path d="M241,402 C236,416 237,434 244,447" fill="none" stroke="#a86e56" stroke-width="3"/>
<path d="M253.0,385.0 C246.0,399.0 248.0,417.0 260.0,431.0 L274.5,429.0 C266.5,415.0 265.5,399.0 270.5,384.0 Z" fill="#d49a80"/>
<path d="M254.0,386.0 C248.0,399.0 250.0,417.0 261.0,431.0" fill="none" stroke="#eec2aa" stroke-width="2"/>
<path d="M271.5,384.0 C265.5,399.0 267.5,415.0 275.5,429.0" fill="none" stroke="#a87058" stroke-width="3.2"/>
<path d="M273.5,382.0 C266.5,396.0 268.5,413.0 279.0,427.0 L292.5,425.0 C284.5,411.0 283.5,396.0 288.5,381.0 Z" fill="#d49a80"/>
<path d="M274.5,383.0 C268.5,396.0 270.5,413.0 280.0,427.0" fill="none" stroke="#eec2aa" stroke-width="2"/>
<path d="M289.5,381.0 C283.5,396.0 285.5,411.0 293.5,425.0" fill="none" stroke="#a87058" stroke-width="3.2"/>
<path d="M291.5,375.5 C284.5,389.5 286.5,409.0 297.0,423.0 L309.0,421.0 C301.0,407.0 300.0,389.5 305.0,374.5 Z" fill="#d49a80"/>
<path d="M292.5,376.5 C286.5,389.5 288.5,409.0 298.0,423.0" fill="none" stroke="#eec2aa" stroke-width="2"/>
<path d="M306.0,374.5 C300.0,389.5 302.0,407.0 310.0,421.0" fill="none" stroke="#a87058" stroke-width="3.2"/>
<path d="M308.0,372.5 C301.0,386.5 303.0,406.0 313.5,420.0 L325.5,418.0 C317.5,404.0 316.5,386.5 321.5,371.5 Z" fill="#d49a80"/>
<path d="M309.0,373.5 C303.0,386.5 305.0,406.0 314.5,420.0" fill="none" stroke="#eec2aa" stroke-width="2"/>
<path d="M322.5,371.5 C316.5,386.5 318.5,404.0 326.5,418.0" fill="none" stroke="#a87058" stroke-width="3.2"/>
<path d="M324.5,369.5 C317.5,383.5 319.5,403.0 329.0,417.0 L346.0,415.0 C338.0,401.0 337.0,383.5 342.0,368.5 Z" fill="#d49a80"/>
<path d="M325.5,370.5 C319.5,383.5 321.5,403.0 330.0,417.0" fill="none" stroke="#eec2aa" stroke-width="2"/>
<path d="M343.0,368.5 C337.0,383.5 339.0,401.0 347.0,415.0" fill="none" stroke="#a87058" stroke-width="3.2"/>
<rect x="200" y="360" width="170" height="95" fill="url(#csh)"/>
</g>
<ellipse cx="352" cy="382" rx="9.5" ry="17.5" fill="#d99c80" transform="rotate(-6 352 382)"/>
<ellipse cx="354.5" cy="382" rx="6.5" ry="13.5" fill="#c98b70" transform="rotate(-6 354.5 382)"/>
<path d="M346,367 C341,375 341,390 346,398" fill="none" stroke="#eec2aa" stroke-width="1.6"/>
<path d="M235.5,362.0 L240.0,382.0 L249.0,402.0 L260.0,400.0 L248.5,380.0 L246.0,362.0Z" fill="#b4b444"/>
<path d="M236.7,362.0 L241.2,382.0 L250.2,402.0 L257.6,400.0 L246.1,380.0 L243.6,362.0Z" fill="#e4e474"/>
<path d="M237.9,362.0 L242.4,382.0 L251.4,402.0" fill="none" stroke="#f4f4a8" stroke-width="1.1"/>
<path d="M246,394 L262,392 L266,412 L258,418 L249,410 Z" fill="#e4e474"/>
<path d="M254,400 L262,398" stroke="#c83040" stroke-width="2"/>
<path d="M252,408 L262,406 L263,414 L253,416 Z" fill="#5a6688"/>
<rect x="255" y="415" width="5" height="3" fill="#e0a030"/>
<path d="M255,419 L263,418 L263,424 L256,425 Z" fill="#5a6688"/>
<path d="M324.0,334.0 L326.5,358.0 L333.0,376.0 L346.0,372.0 L336.0,356.0 L335.5,334.0Z" fill="#b4b444"/>
<path d="M325.2,334.0 L327.7,358.0 L334.2,376.0 L343.6,372.0 L333.6,356.0 L333.1,334.0Z" fill="#e4e474"/>
<path d="M326.4,334.0 L328.9,358.0 L335.4,376.0" fill="none" stroke="#f4f4a8" stroke-width="1.1"/>
<path d="M334,372 L347,369 L350,387 L340,392 Z" fill="#e4e474"/>
<path d="M337,372 L347,370" stroke="#c83040" stroke-width="2"/>
<rect x="341" y="378" width="7" height="9" fill="#56648a"/>
<rect x="341" y="387" width="5" height="3" fill="#e0a030"/>
<rect x="263" y="381" width="8" height="7" fill="#e4e474"/>
<rect x="293" y="370" width="8" height="8" fill="#e4e474"/>
<path d="M308.2,310.6 L308.2,333.6 A17.2,5 0 0 0 342.5,333.6 L342.5,310.6 Z" fill="url(#pg)"/>
<path d="M308.5,317.8 Q325.4,322.2 342.2,317.8 L342.2,321.0 Q325.4,325.4 308.5,321.0 Z" fill="#ece0cc"/>
<path d="M308.7,319.4 Q325.4,323.8 342.0,319.4" fill="none" stroke="#c49a70" stroke-width="1" stroke-dasharray="1.4 1.2"/>
<ellipse cx="325.4" cy="310.2" rx="17.2" ry="5.6" fill="url(#pt)"/>
<ellipse cx="324.9" cy="309.8" rx="14.2" ry="4" fill="#c26010"/>
<path d="M312.2,311.1 A13.2,4 0 0 0 338.5,311.1" fill="none" stroke="#d27420" stroke-width="1.2"/>
<ellipse cx="315.7" cy="327.6" rx="2.6" ry="3.6" fill="#6a4a0c"/>
<ellipse cx="316.4" cy="328.1" rx="1.5" ry="2.7" fill="#9cc030"/>
<path d="M219.9,341.6 L219.9,364.6 A17.0,5 0 0 0 253.8,364.6 L253.8,341.6 Z" fill="url(#pg)"/>
<path d="M220.2,348.8 Q236.9,353.2 253.5,348.8 L253.5,352.0 Q236.9,356.4 220.2,352.0 Z" fill="#ece0cc"/>
<path d="M220.4,350.4 Q236.9,354.8 253.3,350.4" fill="none" stroke="#c49a70" stroke-width="1" stroke-dasharray="1.4 1.2"/>
<ellipse cx="236.9" cy="341.2" rx="17.0" ry="5.6" fill="url(#pt)"/>
<ellipse cx="236.4" cy="340.8" rx="14.0" ry="4" fill="#c26010"/>
<path d="M223.9,342.1 A13.0,4 0 0 0 249.8,342.1" fill="none" stroke="#d27420" stroke-width="1.2"/>
<ellipse cx="227.4" cy="358.6" rx="2.6" ry="3.6" fill="#6a4a0c"/>
<ellipse cx="228.1" cy="359.1" rx="1.5" ry="2.7" fill="#9cc030"/>
<path d="M279.0,345.4 L279.0,368.4 A16.9,5 0 0 0 312.8,368.4 L312.8,345.4 Z" fill="url(#pg)"/>
<path d="M279.3,352.6 Q295.9,357.0 312.5,352.6 L312.5,355.8 Q295.9,360.2 279.3,355.8 Z" fill="#ece0cc"/>
<path d="M279.5,354.2 Q295.9,358.6 312.3,354.2" fill="none" stroke="#c49a70" stroke-width="1" stroke-dasharray="1.4 1.2"/>
<ellipse cx="295.9" cy="345.0" rx="16.9" ry="5.6" fill="url(#pt)"/>
<ellipse cx="295.4" cy="344.6" rx="13.9" ry="4" fill="#c26010"/>
<path d="M283.0,345.9 A12.9,4 0 0 0 308.8,345.9" fill="none" stroke="#d27420" stroke-width="1.2"/>
<ellipse cx="286.5" cy="362.4" rx="2.6" ry="3.6" fill="#6a4a0c"/>
<ellipse cx="287.2" cy="362.9" rx="1.5" ry="2.7" fill="#9cc030"/>
<path d="M248.9,355.8 L248.9,378.8 A17.7,5 0 0 0 284.4,378.8 L284.4,355.8 Z" fill="url(#pg)"/>
<path d="M249.2,363.0 Q266.6,367.4 284.1,363.0 L284.1,366.2 Q266.6,370.6 249.2,366.2 Z" fill="#ece0cc"/>
<path d="M249.4,364.6 Q266.6,369.0 283.9,364.6" fill="none" stroke="#c49a70" stroke-width="1" stroke-dasharray="1.4 1.2"/>
<ellipse cx="266.6" cy="355.4" rx="17.7" ry="5.6" fill="url(#pt)"/>
<ellipse cx="266.1" cy="355.0" rx="14.7" ry="4" fill="#c26010"/>
<path d="M252.9,356.3 A13.7,4 0 0 0 280.4,356.3" fill="none" stroke="#d27420" stroke-width="1.2"/>
<ellipse cx="256.4" cy="372.8" rx="2.6" ry="3.6" fill="#6a4a0c"/>
<ellipse cx="257.1" cy="373.3" rx="1.5" ry="2.7" fill="#9cc030"/>
<ellipse cx="200" cy="434" rx="8.5" ry="11.2" fill="#e6c43a" stroke="#d8b030" stroke-width="1.8" stroke-dasharray="1.2 0.9" transform="rotate(-10 200 434)"/>
<ellipse cx="197.4" cy="433.8" rx="8.7" ry="10.6" fill="#f8e86c" stroke="#e6c43a" stroke-width="1.8" stroke-dasharray="1.2 0.9" transform="rotate(-10.0 197.4 433.8)"/>
<ellipse cx="195.8" cy="434.5" rx="4.6" ry="6.4" fill="#d9a088" transform="rotate(-10 195.8 434.5)"/>
<ellipse cx="196.3" cy="434.5" rx="2.4" ry="3.8" fill="#b47a62" transform="rotate(-10 196.3 434.5)"/>
<path d="M189,428 L170.6,287 C169.5,276 177,268.5 185,268.6 C195,268.7 203,278 206,288 L208.3,297 L209.3,432 C209.5,442 204.5,446 199.5,446 C193.5,446 189.5,438 189,428 Z" fill="none" stroke="#000" stroke-width="2.5" stroke-linejoin="round"/>
<text x="270.20" y="483.50" font-size="12.00" fill="#111" text-anchor="middle" textLength="14.6" lengthAdjust="spacingAndGlyphs" font-weight="bold" style="font-family:'Liberation Serif','Times New Roman',serif" >(c)</text>
</svg></body></html>
